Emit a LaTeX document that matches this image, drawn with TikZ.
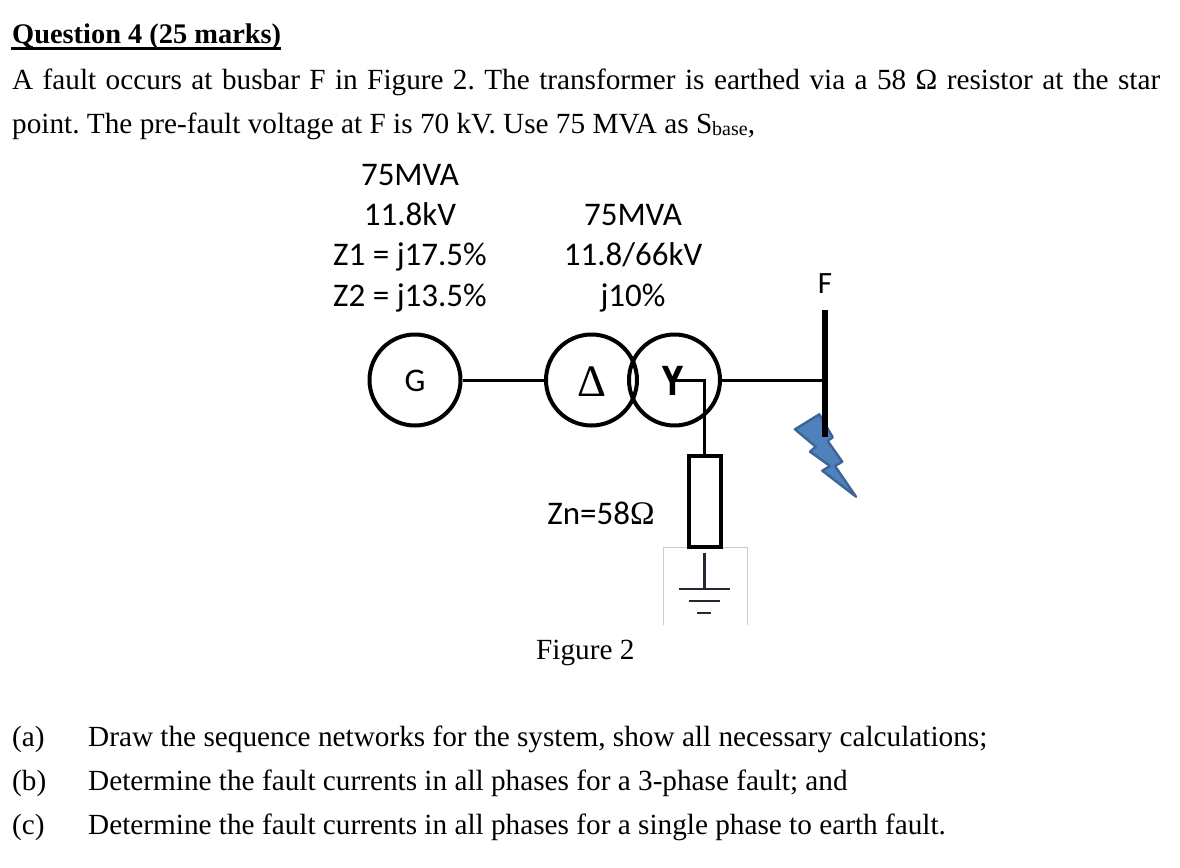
\documentclass[tikz,border=0pt]{standalone}
\usepackage{fontspec}
\setmainfont{Liberation Serif}
\newfontfamily\dia{Carlito}
\newfontfamily\ysym{DejaVu Sans}
\usetikzlibrary{calc}
\frenchspacing
\definecolor{boltfill}{RGB}{79,129,189}
\definecolor{boltedge}{RGB}{60,100,150}
\definecolor{earthc}{RGB}{35,40,55}
\tikzset{
 x=1pt,y=-1pt,
 para/.style={anchor=base west,inner sep=0,font=\fontsize{29.25}{29}\selectfont},
 lab/.style={anchor=base,inner sep=0,font=\dia\fontsize{33}{33}\selectfont},
 ring/.style={circle,draw=black,line width=4pt,minimum size=91pt,inner sep=0},
 wire/.style={draw=black,line width=3pt},
 earthl/.style={draw=earthc,line width=2.8pt},
}
\begin{document}
\begin{tikzpicture}
\useasboundingbox (0,0) rectangle (1180,867);
% text
\node[para,font=\bfseries\fontsize{28.4}{29}\selectfont] (q) at (12,44) {Question 4 (25 marks)};
\draw[line width=2.6pt] (q.base west)++(-1,4.5) -- ++(270,0);
\node[para] (l1) at (12,89) {\makebox[1148pt][s]{A fault occurs at busbar F in Figure 2. The transformer is earthed via a 58 Ω resistor at the star}};
\node[para] (l2) at (12,133) {point. The pre-fault voltage at F is 70 kV. Use 75 MVA as S{\fontsize{20}{20}\selectfont\raisebox{-2pt}{base}},};
% labels
\node[lab] (a1) at (410,185) {75MVA};
\node[lab] (a2) at (410,225) {11.8kV};
\node[lab] (a3) at (410,265) {Z1 = j17.5\%};
\node[lab] (a4) at (410,306) {Z2 = j13.5\%};
\node[lab] (b1) at (633,225) {75MVA};
\node[lab] (b2) at (633,265) {11.8/66kV};
\node[lab] (b3) at (633,306) {j10\%};
\node[lab,font=\dia\fontsize{31}{31}\selectfont] (f) at (825,293) {F};
\node[lab] (zn) at (601,524) {Zn=58{\fontspec{Liberation Serif}Ω}};
% ground frame
\draw[draw=black!20,line width=0.6pt] (663,625) -- (663,547) -- (747,547) -- (747,625);
% shapes
\node[ring] (g) at (415,380) {};
\node[ring] (d) at (591.5,380) {};
\node[ring] (y) at (674.5,380) {};
\node[lab,anchor=center,font=\dia\fontsize{33}{33}\selectfont] (gt) at (415,381) {G};
\node[lab,anchor=center,font=\fontsize{45}{45}\selectfont] (dt) at (592,382) {Δ};
\node[lab,anchor=center] (yt) at (673,380.5) {\scalebox{.72}[1]{\ysym\bfseries\fontsize{40}{40}\selectfont Y}};
\coordinate (bt) at (825,310);
\coordinate (bb) at (825,437);
\coordinate (bm) at (825,380);
% fault bolt
\fill[fill=boltfill,draw=boltedge,line width=2.4pt,line join=round]
 (795,429.3) -- (819.3,414.3) -- (832.7,437.3) -- (827.7,441) -- (842.3,461.7) -- (835,466) -- (856,496.7) -- (822.3,470.7) -- (830,466) -- (810,451.7) -- (815.7,446.7) -- cycle;
\draw[line width=5.5pt] (bt) -- (bb);
% resistor
\node[draw=black,line width=4pt,minimum width=32pt,minimum height=91pt,inner sep=0] (r) at (704.5,501) {};
% connectors
\draw[wire] (g.east) -- (d.west);
\draw[wire] (y.east) -- (bm);
\draw[wire] (yt.center) -- (704.5,380.5) -- (r.north);
% earth
\coordinate (e0) at (704.5,553);
\coordinate (e1) at (704.5,589);
\draw[earthl] (e0) -- (e1);
\draw[earthl] (679,589) -- (730,589);
\draw[earthl] (689,601) -- (720,601);
\draw[earthl] (697,613) -- (711,613);
% caption
\node[para] (cap) at (536,659) {Figure 2};
% items
\node[para] (ia) at (12,746) {(a)};
\node[para] (ib) at (12,790) {(b)};
\node[para] (ic) at (12,834) {(c)};
\node[para] (ta) at (88,746) {Draw the sequence networks for the system, show all necessary calculations;};
\node[para] (tb) at (88,790) {Determine the fault currents in all phases for a 3-phase fault; and};
\node[para] (tc) at (88,834) {Determine the fault currents in all phases for a single phase to earth fault.};
\end{tikzpicture}
\end{document}
